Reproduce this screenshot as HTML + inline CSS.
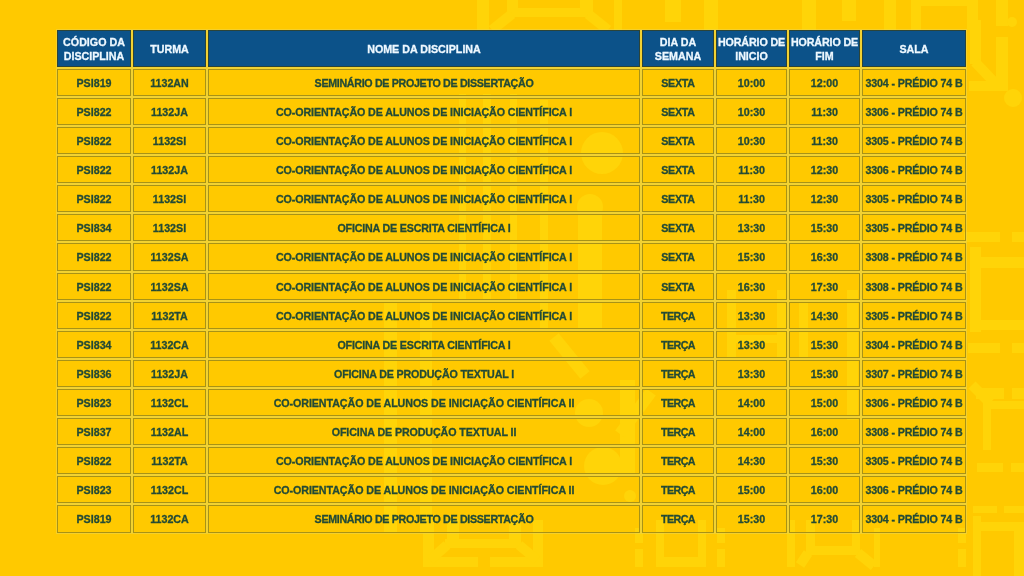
<!DOCTYPE html><html><head><meta charset="utf-8"><style>
html,body{margin:0;padding:0;}
body{width:1024px;height:576px;overflow:hidden;background:#ffc900;position:relative;font-family:"Liberation Sans",sans-serif;font-weight:bold;}
.g{position:absolute;background:#f2d232;}
.h{position:absolute;box-sizing:border-box;border:1px solid #2c4438;background:#0c5289;color:#eef8ff;-webkit-text-stroke:0.3px #eef8ff;font-size:10.7px;line-height:14px;padding-top:1px;display:flex;align-items:center;justify-content:center;text-align:center;}
.c{position:absolute;box-sizing:border-box;border:1px solid #a89216;background:transparent;color:#234a36;-webkit-text-stroke:0.3px #234a36;font-size:10.7px;display:flex;align-items:center;justify-content:center;text-align:center;white-space:nowrap;}
</style></head><body><div id="w" style="position:absolute;left:0;top:0;width:1024px;height:576px;background:#ffc900;filter:blur(0.3px)">
<svg width="1024" height="576" style="position:absolute;left:0;top:0"><g fill="#ffd408" stroke="none"><rect x="477" y="0" width="12" height="30"/><rect x="507" y="0" width="11" height="16"/><rect x="507" y="8" width="86" height="9"/><rect x="580" y="0" width="13" height="16"/><line x1="512" y1="14" x2="492" y2="30" stroke="#ffd408" stroke-width="10"/><line x1="588" y1="14" x2="608" y2="30" stroke="#ffd408" stroke-width="10"/><rect x="614" y="0" width="8" height="30"/><rect x="665" y="0" width="16" height="22"/><rect x="704" y="0" width="14" height="30"/><rect x="802" y="0" width="14" height="30"/><rect x="842" y="0" width="14" height="21"/><rect x="884" y="0" width="12" height="30"/><rect x="911" y="0" width="66" height="6"/><rect x="911" y="0" width="10" height="30"/><rect x="967" y="0" width="11" height="30"/><rect x="996" y="0" width="12" height="26"/><rect x="970" y="20" width="11" height="44"/><line x1="975" y1="62" x2="995" y2="83" stroke="#ffd408" stroke-width="10"/><rect x="969" y="81" width="39" height="10"/><rect x="996" y="37" width="12" height="46"/><circle cx="1013" cy="98" r="9"/><circle cx="1012" cy="22" r="5"/><rect x="964" y="232" width="36" height="10"/><rect x="1012" y="232" width="12" height="10"/><rect x="970" y="247" width="11" height="85"/><rect x="970" y="257" width="54" height="11"/><rect x="970" y="320" width="54" height="10"/><rect x="968" y="343" width="32" height="10"/><rect x="1012" y="343" width="12" height="10"/><rect x="976" y="388" width="28" height="11"/><rect x="1012" y="388" width="12" height="11"/><line x1="972" y1="385" x2="990" y2="403" stroke="#ffd408" stroke-width="10"/><rect x="983" y="399" width="8" height="51"/><rect x="983" y="401" width="41" height="8"/><rect x="977" y="463" width="26" height="9"/><rect x="1011" y="463" width="13" height="9"/><rect x="973" y="506" width="24" height="7"/><rect x="1004" y="506" width="20" height="7"/><rect x="973" y="516" width="8" height="60"/><rect x="1014" y="529" width="10" height="47"/><rect x="973" y="522" width="51" height="9"/><rect x="423" y="520" width="11" height="47"/><rect x="533" y="520" width="10" height="47"/><rect x="423" y="557" width="55" height="10"/><rect x="490" y="557" width="53" height="10"/><rect x="445" y="539" width="76" height="9"/><line x1="447" y1="545" x2="430" y2="560" stroke="#ffd408" stroke-width="10"/><line x1="519" y1="545" x2="537" y2="560" stroke="#ffd408" stroke-width="10"/><rect x="447" y="520" width="12" height="20"/><rect x="509" y="520" width="12" height="20"/><rect x="635" y="549" width="8" height="18"/><rect x="635" y="528" width="8" height="15"/><rect x="656" y="520" width="8" height="47"/><rect x="698" y="520" width="8" height="47"/><rect x="656" y="557" width="50" height="10"/><rect x="717" y="549" width="8" height="18"/><rect x="717" y="528" width="8" height="15"/><rect x="787" y="520" width="8" height="47"/><rect x="806" y="520" width="9" height="30"/><rect x="806" y="546" width="54" height="9"/><rect x="852" y="520" width="8" height="30"/><line x1="808" y1="553" x2="800" y2="565" stroke="#ffd408" stroke-width="10"/><line x1="858" y1="553" x2="874" y2="566" stroke="#ffd408" stroke-width="10"/><rect x="874" y="528" width="6" height="39"/><rect x="958" y="549" width="8" height="18"/><rect x="958" y="528" width="8" height="15"/><circle cx="602" cy="153" r="21"/><circle cx="590" cy="207" r="13"/><rect x="578" y="215" width="24" height="115"/><rect x="540" y="100" width="8" height="230"/><rect x="459" y="94" width="7" height="206"/><rect x="483" y="94" width="8" height="206"/><rect x="510" y="94" width="7" height="206"/><circle cx="589" cy="413" r="14"/><circle cx="603" cy="466" r="19"/><circle cx="630" cy="496" r="6"/><rect x="620" y="380" width="15" height="94"/><line x1="554" y1="337" x2="585" y2="375" stroke="#ffd408" stroke-width="12"/><line x1="651" y1="392" x2="620" y2="434" stroke="#ffd408" stroke-width="12"/><rect x="384" y="300" width="13" height="232"/><rect x="420" y="300" width="12" height="232"/><rect x="727" y="290" width="9" height="68"/><rect x="727" y="335" width="59" height="8"/><rect x="777" y="290" width="9" height="68"/><rect x="799" y="303" width="9" height="55"/><rect x="847" y="290" width="11" height="130"/></g></svg>
<div style="position:absolute;left:56px;top:29px;width:909px;height:503px;border:1px solid rgba(236,214,80,0.55)"></div>
<div class="g" style="left:131px;top:30px;width:2px;height:503px"></div>
<div class="g" style="left:206px;top:30px;width:2px;height:503px"></div>
<div class="g" style="left:640px;top:30px;width:2px;height:503px"></div>
<div class="g" style="left:714px;top:30px;width:2px;height:503px"></div>
<div class="g" style="left:787px;top:30px;width:2px;height:503px"></div>
<div class="g" style="left:860px;top:30px;width:2px;height:503px"></div>
<div class="g" style="left:57px;top:67px;width:909px;height:2px"></div>
<div class="g" style="left:57px;top:96px;width:909px;height:2px"></div>
<div class="g" style="left:57px;top:125px;width:909px;height:2px"></div>
<div class="g" style="left:57px;top:154px;width:909px;height:2px"></div>
<div class="g" style="left:57px;top:183px;width:909px;height:2px"></div>
<div class="g" style="left:57px;top:212px;width:909px;height:2px"></div>
<div class="g" style="left:57px;top:241px;width:909px;height:2px"></div>
<div class="g" style="left:57px;top:271px;width:909px;height:2px"></div>
<div class="g" style="left:57px;top:300px;width:909px;height:2px"></div>
<div class="g" style="left:57px;top:329px;width:909px;height:2px"></div>
<div class="g" style="left:57px;top:358px;width:909px;height:2px"></div>
<div class="g" style="left:57px;top:387px;width:909px;height:2px"></div>
<div class="g" style="left:57px;top:416px;width:909px;height:2px"></div>
<div class="g" style="left:57px;top:445px;width:909px;height:2px"></div>
<div class="g" style="left:57px;top:474px;width:909px;height:2px"></div>
<div class="g" style="left:57px;top:503px;width:909px;height:2px"></div>
<div class="h" style="left:57px;top:30px;width:74px;height:37px"><div>CÓDIGO DA<br>DISCIPLINA</div></div>
<div class="h" style="left:133px;top:30px;width:73px;height:37px"><div>TURMA</div></div>
<div class="h" style="left:208px;top:30px;width:432px;height:37px"><div>NOME DA DISCIPLINA</div></div>
<div class="h" style="left:642px;top:30px;width:72px;height:37px"><div>DIA DA<br>SEMANA</div></div>
<div class="h" style="left:716px;top:30px;width:71px;height:37px"><div><span style="letter-spacing:-0.12px">HORÁRIO DE</span><br>INICIO</div></div>
<div class="h" style="left:789px;top:30px;width:71px;height:37px"><div><span style="letter-spacing:-0.12px">HORÁRIO DE</span><br>FIM</div></div>
<div class="h" style="left:862px;top:30px;width:104px;height:37px"><div>SALA</div></div>
<div class="c" style="left:57px;top:69px;width:74px;height:27px">PSI819</div>
<div class="c" style="left:133px;top:69px;width:73px;height:27px">1132AN</div>
<div class="c" style="left:208px;top:69px;width:432px;height:27px;letter-spacing:-0.32px">SEMINÁRIO DE PROJETO DE DISSERTAÇÃO</div>
<div class="c" style="left:642px;top:69px;width:72px;height:27px;letter-spacing:-0.25px">SEXTA</div>
<div class="c" style="left:716px;top:69px;width:71px;height:27px">10:00</div>
<div class="c" style="left:789px;top:69px;width:71px;height:27px">12:00</div>
<div class="c" style="left:862px;top:69px;width:104px;height:27px;letter-spacing:-0.15px">3304 - PRÉDIO 74 B</div>
<div class="c" style="left:57px;top:98px;width:74px;height:27px">PSI822</div>
<div class="c" style="left:133px;top:98px;width:73px;height:27px">1132JA</div>
<div class="c" style="left:208px;top:98px;width:432px;height:27px;letter-spacing:-0.104px">CO-ORIENTAÇÃO DE ALUNOS DE INICIAÇÃO CIENTÍFICA I</div>
<div class="c" style="left:642px;top:98px;width:72px;height:27px;letter-spacing:-0.25px">SEXTA</div>
<div class="c" style="left:716px;top:98px;width:71px;height:27px">10:30</div>
<div class="c" style="left:789px;top:98px;width:71px;height:27px">11:30</div>
<div class="c" style="left:862px;top:98px;width:104px;height:27px;letter-spacing:-0.15px">3306 - PRÉDIO 74 B</div>
<div class="c" style="left:57px;top:127px;width:74px;height:27px">PSI822</div>
<div class="c" style="left:133px;top:127px;width:73px;height:27px">1132SI</div>
<div class="c" style="left:208px;top:127px;width:432px;height:27px;letter-spacing:-0.104px">CO-ORIENTAÇÃO DE ALUNOS DE INICIAÇÃO CIENTÍFICA I</div>
<div class="c" style="left:642px;top:127px;width:72px;height:27px;letter-spacing:-0.25px">SEXTA</div>
<div class="c" style="left:716px;top:127px;width:71px;height:27px">10:30</div>
<div class="c" style="left:789px;top:127px;width:71px;height:27px">11:30</div>
<div class="c" style="left:862px;top:127px;width:104px;height:27px;letter-spacing:-0.15px">3305 - PRÉDIO 74 B</div>
<div class="c" style="left:57px;top:156px;width:74px;height:27px">PSI822</div>
<div class="c" style="left:133px;top:156px;width:73px;height:27px">1132JA</div>
<div class="c" style="left:208px;top:156px;width:432px;height:27px;letter-spacing:-0.104px">CO-ORIENTAÇÃO DE ALUNOS DE INICIAÇÃO CIENTÍFICA I</div>
<div class="c" style="left:642px;top:156px;width:72px;height:27px;letter-spacing:-0.25px">SEXTA</div>
<div class="c" style="left:716px;top:156px;width:71px;height:27px">11:30</div>
<div class="c" style="left:789px;top:156px;width:71px;height:27px">12:30</div>
<div class="c" style="left:862px;top:156px;width:104px;height:27px;letter-spacing:-0.15px">3306 - PRÉDIO 74 B</div>
<div class="c" style="left:57px;top:185px;width:74px;height:27px">PSI822</div>
<div class="c" style="left:133px;top:185px;width:73px;height:27px">1132SI</div>
<div class="c" style="left:208px;top:185px;width:432px;height:27px;letter-spacing:-0.104px">CO-ORIENTAÇÃO DE ALUNOS DE INICIAÇÃO CIENTÍFICA I</div>
<div class="c" style="left:642px;top:185px;width:72px;height:27px;letter-spacing:-0.25px">SEXTA</div>
<div class="c" style="left:716px;top:185px;width:71px;height:27px">11:30</div>
<div class="c" style="left:789px;top:185px;width:71px;height:27px">12:30</div>
<div class="c" style="left:862px;top:185px;width:104px;height:27px;letter-spacing:-0.15px">3305 - PRÉDIO 74 B</div>
<div class="c" style="left:57px;top:214px;width:74px;height:27px">PSI834</div>
<div class="c" style="left:133px;top:214px;width:73px;height:27px">1132SI</div>
<div class="c" style="left:208px;top:214px;width:432px;height:27px;letter-spacing:-0.17px">OFICINA DE ESCRITA CIENTÍFICA I</div>
<div class="c" style="left:642px;top:214px;width:72px;height:27px;letter-spacing:-0.25px">SEXTA</div>
<div class="c" style="left:716px;top:214px;width:71px;height:27px">13:30</div>
<div class="c" style="left:789px;top:214px;width:71px;height:27px">15:30</div>
<div class="c" style="left:862px;top:214px;width:104px;height:27px;letter-spacing:-0.15px">3305 - PRÉDIO 74 B</div>
<div class="c" style="left:57px;top:243px;width:74px;height:28px">PSI822</div>
<div class="c" style="left:133px;top:243px;width:73px;height:28px">1132SA</div>
<div class="c" style="left:208px;top:243px;width:432px;height:28px;letter-spacing:-0.104px">CO-ORIENTAÇÃO DE ALUNOS DE INICIAÇÃO CIENTÍFICA I</div>
<div class="c" style="left:642px;top:243px;width:72px;height:28px;letter-spacing:-0.25px">SEXTA</div>
<div class="c" style="left:716px;top:243px;width:71px;height:28px">15:30</div>
<div class="c" style="left:789px;top:243px;width:71px;height:28px">16:30</div>
<div class="c" style="left:862px;top:243px;width:104px;height:28px;letter-spacing:-0.15px">3308 - PRÉDIO 74 B</div>
<div class="c" style="left:57px;top:273px;width:74px;height:27px">PSI822</div>
<div class="c" style="left:133px;top:273px;width:73px;height:27px">1132SA</div>
<div class="c" style="left:208px;top:273px;width:432px;height:27px;letter-spacing:-0.104px">CO-ORIENTAÇÃO DE ALUNOS DE INICIAÇÃO CIENTÍFICA I</div>
<div class="c" style="left:642px;top:273px;width:72px;height:27px;letter-spacing:-0.25px">SEXTA</div>
<div class="c" style="left:716px;top:273px;width:71px;height:27px">16:30</div>
<div class="c" style="left:789px;top:273px;width:71px;height:27px">17:30</div>
<div class="c" style="left:862px;top:273px;width:104px;height:27px;letter-spacing:-0.15px">3308 - PRÉDIO 74 B</div>
<div class="c" style="left:57px;top:302px;width:74px;height:27px">PSI822</div>
<div class="c" style="left:133px;top:302px;width:73px;height:27px">1132TA</div>
<div class="c" style="left:208px;top:302px;width:432px;height:27px;letter-spacing:-0.104px">CO-ORIENTAÇÃO DE ALUNOS DE INICIAÇÃO CIENTÍFICA I</div>
<div class="c" style="left:642px;top:302px;width:72px;height:27px;letter-spacing:-0.6px">TERÇA</div>
<div class="c" style="left:716px;top:302px;width:71px;height:27px">13:30</div>
<div class="c" style="left:789px;top:302px;width:71px;height:27px">14:30</div>
<div class="c" style="left:862px;top:302px;width:104px;height:27px;letter-spacing:-0.15px">3305 - PRÉDIO 74 B</div>
<div class="c" style="left:57px;top:331px;width:74px;height:27px">PSI834</div>
<div class="c" style="left:133px;top:331px;width:73px;height:27px">1132CA</div>
<div class="c" style="left:208px;top:331px;width:432px;height:27px;letter-spacing:-0.17px">OFICINA DE ESCRITA CIENTÍFICA I</div>
<div class="c" style="left:642px;top:331px;width:72px;height:27px;letter-spacing:-0.6px">TERÇA</div>
<div class="c" style="left:716px;top:331px;width:71px;height:27px">13:30</div>
<div class="c" style="left:789px;top:331px;width:71px;height:27px">15:30</div>
<div class="c" style="left:862px;top:331px;width:104px;height:27px;letter-spacing:-0.15px">3304 - PRÉDIO 74 B</div>
<div class="c" style="left:57px;top:360px;width:74px;height:27px">PSI836</div>
<div class="c" style="left:133px;top:360px;width:73px;height:27px">1132JA</div>
<div class="c" style="left:208px;top:360px;width:432px;height:27px;letter-spacing:-0.16px">OFICINA DE PRODUÇÃO TEXTUAL I</div>
<div class="c" style="left:642px;top:360px;width:72px;height:27px;letter-spacing:-0.6px">TERÇA</div>
<div class="c" style="left:716px;top:360px;width:71px;height:27px">13:30</div>
<div class="c" style="left:789px;top:360px;width:71px;height:27px">15:30</div>
<div class="c" style="left:862px;top:360px;width:104px;height:27px;letter-spacing:-0.15px">3307 - PRÉDIO 74 B</div>
<div class="c" style="left:57px;top:389px;width:74px;height:27px">PSI823</div>
<div class="c" style="left:133px;top:389px;width:73px;height:27px">1132CL</div>
<div class="c" style="left:208px;top:389px;width:432px;height:27px;letter-spacing:-0.07px">CO-ORIENTAÇÃO DE ALUNOS DE INICIAÇÃO CIENTÍFICA II</div>
<div class="c" style="left:642px;top:389px;width:72px;height:27px;letter-spacing:-0.6px">TERÇA</div>
<div class="c" style="left:716px;top:389px;width:71px;height:27px">14:00</div>
<div class="c" style="left:789px;top:389px;width:71px;height:27px">15:00</div>
<div class="c" style="left:862px;top:389px;width:104px;height:27px;letter-spacing:-0.15px">3306 - PRÉDIO 74 B</div>
<div class="c" style="left:57px;top:418px;width:74px;height:27px">PSI837</div>
<div class="c" style="left:133px;top:418px;width:73px;height:27px">1132AL</div>
<div class="c" style="left:208px;top:418px;width:432px;height:27px;letter-spacing:-0.1px">OFICINA DE PRODUÇÃO TEXTUAL II</div>
<div class="c" style="left:642px;top:418px;width:72px;height:27px;letter-spacing:-0.6px">TERÇA</div>
<div class="c" style="left:716px;top:418px;width:71px;height:27px">14:00</div>
<div class="c" style="left:789px;top:418px;width:71px;height:27px">16:00</div>
<div class="c" style="left:862px;top:418px;width:104px;height:27px;letter-spacing:-0.15px">3308 - PRÉDIO 74 B</div>
<div class="c" style="left:57px;top:447px;width:74px;height:27px">PSI822</div>
<div class="c" style="left:133px;top:447px;width:73px;height:27px">1132TA</div>
<div class="c" style="left:208px;top:447px;width:432px;height:27px;letter-spacing:-0.104px">CO-ORIENTAÇÃO DE ALUNOS DE INICIAÇÃO CIENTÍFICA I</div>
<div class="c" style="left:642px;top:447px;width:72px;height:27px;letter-spacing:-0.6px">TERÇA</div>
<div class="c" style="left:716px;top:447px;width:71px;height:27px">14:30</div>
<div class="c" style="left:789px;top:447px;width:71px;height:27px">15:30</div>
<div class="c" style="left:862px;top:447px;width:104px;height:27px;letter-spacing:-0.15px">3305 - PRÉDIO 74 B</div>
<div class="c" style="left:57px;top:476px;width:74px;height:27px">PSI823</div>
<div class="c" style="left:133px;top:476px;width:73px;height:27px">1132CL</div>
<div class="c" style="left:208px;top:476px;width:432px;height:27px;letter-spacing:-0.07px">CO-ORIENTAÇÃO DE ALUNOS DE INICIAÇÃO CIENTÍFICA II</div>
<div class="c" style="left:642px;top:476px;width:72px;height:27px;letter-spacing:-0.6px">TERÇA</div>
<div class="c" style="left:716px;top:476px;width:71px;height:27px">15:00</div>
<div class="c" style="left:789px;top:476px;width:71px;height:27px">16:00</div>
<div class="c" style="left:862px;top:476px;width:104px;height:27px;letter-spacing:-0.15px">3306 - PRÉDIO 74 B</div>
<div class="c" style="left:57px;top:505px;width:74px;height:28px">PSI819</div>
<div class="c" style="left:133px;top:505px;width:73px;height:28px">1132CA</div>
<div class="c" style="left:208px;top:505px;width:432px;height:28px;letter-spacing:-0.32px">SEMINÁRIO DE PROJETO DE DISSERTAÇÃO</div>
<div class="c" style="left:642px;top:505px;width:72px;height:28px;letter-spacing:-0.6px">TERÇA</div>
<div class="c" style="left:716px;top:505px;width:71px;height:28px">15:30</div>
<div class="c" style="left:789px;top:505px;width:71px;height:28px">17:30</div>
<div class="c" style="left:862px;top:505px;width:104px;height:28px;letter-spacing:-0.15px">3304 - PRÉDIO 74 B</div>
</div></body></html>
